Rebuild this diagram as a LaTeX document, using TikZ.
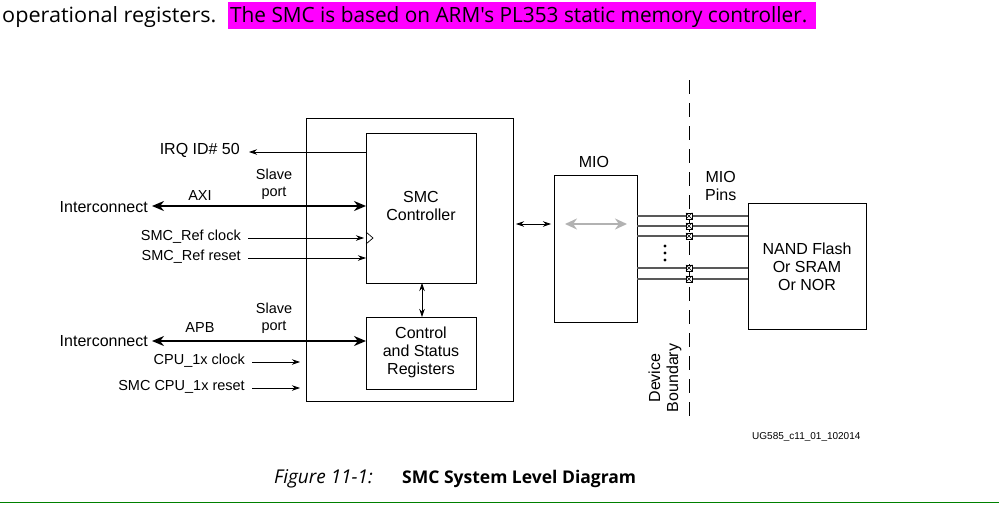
\documentclass[tikz,border=0pt]{standalone}
\usepackage{fontspec}
\setmainfont{Liberation Sans}
\newfontfamily\docfont{Open Sans}
\usetikzlibrary{arrows.meta}
\definecolor{hl}{RGB}{255,0,255}
\begin{document}
\begin{tikzpicture}[x=1pt,y=-1pt,
  lbl/.style={font=\fontsize{16}{18}\selectfont,inner sep=0pt,align=center},
  sml/.style={font=\fontsize{14.5}{16.5}\selectfont,inner sep=0pt,align=center},
  box/.style={draw,line width=1.3pt},
  thin/.style={line width=0.7pt},
  tip/.style={-{Stealth[length=8pt,width=5.5pt]}},
  dtip/.style={{Stealth[length=8pt,width=5.5pt]}-{Stealth[length=8pt,width=5.5pt]}},
  bus/.style={line width=2.8pt,{Stealth[length=12pt,width=10pt]}-{Stealth[length=12pt,width=10pt]}},
  pin/.style={draw,fill=white,line width=0.5pt,minimum size=6.5pt,inner sep=0pt,path picture={\draw[line width=0.4pt](path picture bounding box.south west)--(path picture bounding box.north east)(path picture bounding box.north west)--(path picture bounding box.south east);}}
]
\useasboundingbox (0,0) rectangle (999,504);
% header text
\fill[hl] (228,2) rectangle (816,29);
\node[anchor=base west,inner sep=0pt,font=\docfont\fontsize{21}{24}\selectfont,xscale=1.03] (hdr1) at (2,22) {operational registers.};
\node[anchor=base west,inner sep=0pt,font=\docfont\fontsize{21}{24}\selectfont,xscale=0.99] (hdr2) at (230,22) {The SMC is based on ARM's PL353 static memory controller.};
% boxes
\node[box,minimum width=207pt,minimum height=283pt,anchor=north west,inner sep=0pt] (outer) at (306,118) {};
\node[box,minimum width=110pt,minimum height=150pt,anchor=north west,inner sep=0pt] (ctrl) at (366,133) {};
\node[lbl] (ctrlt) at (421,206) {SMC\\Controller};
\node[box,minimum width=110pt,minimum height=72pt,anchor=north west,inner sep=0pt] (csr) at (366,317) {};
\node[lbl] (csrt) at (421,352) {Control\\and Status\\Registers};
\draw[thin,dtip] (422,283) -- (422,317);
% IRQ
\node[lbl,anchor=east] (irq) at (240,150) {IRQ ID\# 50};
\draw[thin,tip] (366,152) -- (249,152);
% AXI
\node[lbl,anchor=east] (ic1) at (148,207) {Interconnect};
\node[sml] (axi) at (200,196) {AXI};
\node[sml] (sp1) at (274,184) {Slave\\port};
\draw[bus] (152,206) -- (366,206);
% ref clock/reset
\node[sml,anchor=east] (rc) at (241,237) {SMC\_Ref clock};
\node[sml,anchor=east] (rr) at (241,257) {SMC\_Ref reset};
\draw[thin,tip] (248,238) -- (364,238);
\draw[thin] (366,232) -- (373,238) -- (366,244);
\draw[thin,tip] (248,258) -- (366,258);
% APB
\node[lbl,anchor=east] (ic2) at (148,341) {Interconnect};
\node[sml] (apb) at (200,328) {APB};
\node[sml] (sp2) at (274,318) {Slave\\port};
\draw[bus] (152,341) -- (366,341);
\node[sml,anchor=east] (cc) at (245,361) {CPU\_1x clock};
\node[sml,anchor=east] (cr) at (245,387) {SMC CPU\_1x reset};
\draw[thin,tip] (252,362) -- (300,362);
\draw[thin,tip] (252,388) -- (300,388);
% MIO
\node[box,minimum width=83pt,minimum height=147pt,anchor=north west,inner sep=0pt] (mio) at (554,175) {};
\node[lbl] (miot) at (594,162) {MIO};
\draw[line width=2.5pt,gray!60,{Stealth[length=12pt,width=11pt]}-{Stealth[length=12pt,width=11pt]}] (565,224) -- (627,224);
\draw[thin,dtip] (516,224) -- (551,224);
% device boundary
\draw[line width=0.8pt,dash pattern=on 14pt off 9pt] (689,80) -- (689,425);
\node[lbl,anchor=west] (pins) at (705,186) {MIO\\Pins};
\node[lbl,rotate=90] (db) at (665,378) {Device\\Boundary};
% NAND
\node[box,minimum width=118pt,minimum height=126pt,anchor=north west,inner sep=0pt] (nand) at (748,203) {};
\node[lbl] (nandt) at (807,267) {NAND Flash\\Or SRAM\\Or NOR};
\foreach \y/\n in {216/a,226/b,236/c,268/d,279/e}{
  \draw[line width=1.1pt,gray!70!black] (637,\y) -- (748,\y);
  \node[pin] (p\n) at (689,\y) {};
}
\foreach \y in {246,253,260} \fill (665,\y) circle (1.7pt);
\node[inner sep=0pt,font=\fontsize{10}{11}\selectfont,anchor=west] (ug) at (752,437) {UG585\_c11\_01\_102014};
% caption
\node[anchor=base west,inner sep=0pt,font=\docfont\itshape\fontsize{19}{22}\selectfont] (fig) at (274,483) {Figure 11-1:};
\node[anchor=base west,inner sep=0pt,font=\docfont\bfseries\fontsize{17.5}{20}\selectfont] (cap) at (402,483) {SMC System Level Diagram};
\draw[green!50!black,line width=0.8pt] (0,502) -- (999,502);
\end{tikzpicture}
\end{document}
